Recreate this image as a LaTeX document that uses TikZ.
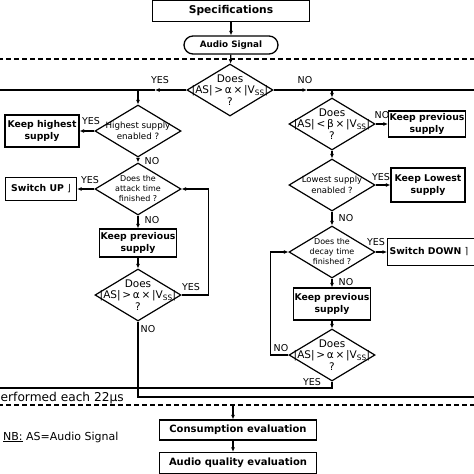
\documentclass[tikz,border=0pt]{standalone}
\usepackage{fontspec}
\setmainfont{DejaVu Sans}
\usetikzlibrary{arrows.meta,shapes.geometric,calc}

\tikzset{
  box/.style={draw,line width=1.3pt,align=center,inner sep=1pt,font=\bfseries\fontsize{9.3}{11.5}\selectfont},
  bigbox/.style={box,font=\bfseries\fontsize{10}{12}\selectfont},
  dia/.style={draw,diamond,line width=1.2pt,inner sep=0pt,minimum width=86pt,minimum height=52pt},
  dtext/.style={align=center,inner sep=0pt},
  asbig/.style={font=\fontsize{10.5}{11.5}\selectfont},
  assmall/.style={font=\fontsize{8}{10}\selectfont},
  lbl/.style={font=\fontsize{9.5}{10}\selectfont,inner sep=0pt},
  arr/.style={line width=1.1pt,-{Latex[length=4.5pt,width=4pt]}},
  wire/.style={line width=1.1pt},
  sep/.style={line width=1.2pt,dash pattern=on 5pt off 3pt}
}

\begin{document}
\begin{tikzpicture}[x=1pt,y=-1pt]
\fill[white] (0,0) rectangle (474,474);
\useasboundingbox (0,0) rectangle (474,474);

% Input
\node[box,minimum width=157pt,minimum height=21pt,font=\bfseries\fontsize{10.7}{12}\selectfont] (spec) at (231,11) {Specifications};
\node[box,rounded corners=9pt,minimum width=94pt,minimum height=18pt,font=\bfseries\fontsize{8.8}{11}\selectfont] (audio) at (231,45) {Audio Signal};
\draw[arr] (spec) -- (audio);

% Separators
\coordinate (sepA1) at (-2,59);
\coordinate (sepA2) at (476,59);
\coordinate (sepB1) at (-2,405);
\coordinate (sepB2) at (476,405);
\draw[sep] (sepA1) -- (sepA2);
\draw[sep] (sepB1) -- (sepB2);

% First test
\node[dia] (d1) at (230,90) {};
\node[dtext,asbig] (d1t) at (d1) {Does\\|AS|\,>\,α\,×\,|V\textsubscript{SS}|\\?};
\draw[arr] (audio) -- (d1);

\coordinate (yesA) at (155,90);
\coordinate (yesB) at (-3,90);
\coordinate (noA) at (307,90);
\coordinate (noB) at (477,90);
\draw[arr] (d1.west) -- (yesA);
\draw[wire] (yesA) -- (yesB);
\draw[arr] (d1.east) -- (noA);
\draw[wire] (noA) -- (noB);
\node[lbl] (yes1) at (160,80) {YES};
\node[lbl] (no1) at (305,80) {NO};

% Left branch
\node[dia] (d2) at (138,131) {};
\node[dtext,font=\fontsize{8.7}{11}\selectfont] (d2t) at (d2) {Highest supply\\enabled ?};
\draw[arr] (d2.north |- yesA) -- (d2.north);
\node[box,minimum width=74pt,minimum height=32pt] (keephi) at (42,131) {Keep highest\\supply};
\draw[arr] (d2.west) -- (keephi.east);
\node[lbl] (yes2) at (91,121) {YES};

\node[dia] (d3) at (138,189) {};
\node[dtext,assmall] (d3t) at (d3) {Does the\\attack time\\finished ?};
\draw[arr] (d2) -- (d3);
\node[lbl] (no2) at (152,161) {NO};
\node[box,minimum width=71pt,minimum height=23pt] (swup) at (41,189) {Switch UP {\mdseries ⌋}};
\draw[arr] (d3.west) -- (swup.east);
\node[lbl] (yes3) at (90,180) {YES};

\node[box,minimum width=70pt,minimum height=28pt] (kpL) at (138,243) {Keep previous\\supply};
\draw[arr] (d3) -- (kpL);
\node[lbl] (no3) at (152,220) {NO};

\node[dia] (d4) at (138,295) {};
\node[dtext,asbig] (d4t) at (d4) {Does\\|AS|\,>\,α\,×\,|V\textsubscript{SS}|\\?};
\draw[arr] (kpL) -- (d4);
\draw[arr] (d4.east) -- ++(27,0) |- (d3.east);
\node[lbl] (yes4) at (191,287) {YES};

\coordinate (outL) at (477,397);
\draw[wire] (d4.south) |- (outL);
\node[lbl] (no4) at (148,329) {NO};

% Right branch
\node[dia] (d5) at (332,124) {};
\node[dtext,asbig] (d5t) at (d5) {Does\\|AS|\,<\,β\,×\,|V\textsubscript{SS}|\\?};
\draw[arr] (d5.north |- noA) -- (d5.north);
\node[box,minimum width=70pt,minimum height=26pt] (kpR) at (427,124) {Keep previous\\supply};
\draw[arr] (d5.east) -- (kpR.west);
\node[lbl] (no5) at (382,115) {NO};

\node[dia] (d6) at (332,185) {};
\node[dtext,font=\fontsize{8.5}{11}\selectfont] (d6t) at (d6) {Lowest supply\\enabled ?};
\draw[arr] (d5) -- (d6);
\node[box,minimum width=74pt,minimum height=34pt] (kplow) at (428,185) {Keep Lowest\\supply};
\draw[arr] (d6.east) -- (kplow.west);
\node[lbl] (yes6) at (381,177) {YES};

\node[dia] (d7) at (332,252) {};
\node[dtext,assmall] (d7t) at (d7) {Does the\\decay time\\finished ?};
\draw[arr] (d6) -- (d7);
\node[lbl] (no6) at (346,218) {NO};
\node[box,anchor=west,text width=104pt,align=left,inner xsep=2pt,minimum height=27pt] (swdn) at (387,252) {Switch DOWN {\mdseries ⌉}};
\draw[arr] (d7.east) -- (swdn.west);
\node[lbl] (yes7) at (376,242) {YES};

\node[box,minimum width=71pt,minimum height=32pt] (kpR2) at (332,304) {Keep previous\\supply};
\draw[arr] (d7) -- (kpR2);
\node[lbl] (no7) at (346,282) {NO};

\node[dia] (d8) at (332,355) {};
\node[dtext,asbig] (d8t) at (d8) {Does\\|AS|\,>\,α\,×\,|V\textsubscript{SS}|\\?};
\draw[arr] (kpR2) -- (d8);
\draw[arr] (d8.west) -- ++(-18,0) |- (d7.west);
\node[lbl] (no8) at (281,348) {NO};

\coordinate (outR) at (-3,388);
\draw[wire] (d8.south) |- (outR);
\node[lbl] (yes8) at (312,382) {YES};

% Bottom part
\node[anchor=west,font=\fontsize{12.2}{13}\selectfont,inner sep=0pt] (perf) at (0.5,398) {erformed each 22µs};

\node[bigbox,minimum width=157pt,minimum height=20pt] (cons) at (238,430) {Consumption evaluation};
\node[bigbox,minimum width=157pt,minimum height=21pt] (aqe) at (238,463) {Audio quality evaluation};
\coordinate (evalin) at (233,405);
\draw[arr] (evalin) -- (evalin |- cons.north);
\draw[arr] (cons.south -| evalin) -- (aqe.north -| evalin);

\node[anchor=west,font=\fontsize{11}{12}\selectfont,inner sep=0pt] (nb) at (3,437) {\underline{NB:} AS=Audio Signal};

\end{tikzpicture}
\end{document}
